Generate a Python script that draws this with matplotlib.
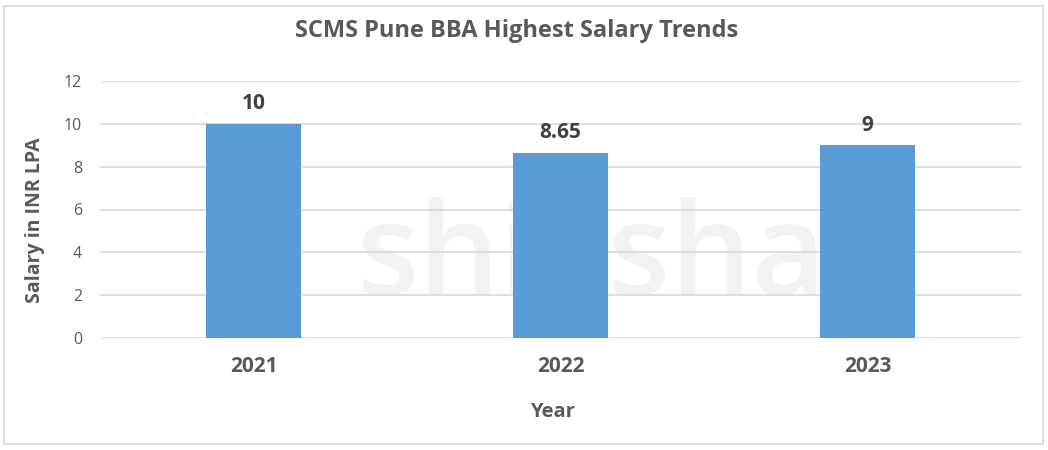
import matplotlib
matplotlib.use("Agg")
import matplotlib.pyplot as plt
from matplotlib.patches import Rectangle

years = ["2021", "2022", "2023"]
salaries = [10, 8.65, 9]
value_labels = ["10", "8.65", "9"]
yticks = [0, 2, 4, 6, 8, 10, 12]

plt.rcParams['font.family'] = ['Open Sans', 'DejaVu Sans']
TXT = '#595959'
BAR = '#5B9BD5'

W, H = 1048, 450
fig = plt.figure(figsize=(W / 100, H / 100), dpi=100)
fig.patch.set_facecolor('white')

# outer chart border
fig.add_artist(Rectangle((4 / W, 1 - 444 / H), (1043 - 4) / W, (444 - 6) / H,
                         transform=fig.transFigure, fill=False,
                         edgecolor='#d9d9d9', linewidth=1.2))

# faint watermark (behind everything in the axes)
wm = fig.text(592 / W, 1 - 262 / H, "shiksha", ha='center', va='center',
              fontsize=92, fontweight='semibold', color='#f2f2f2')
wm.set_zorder(-5)

left, right = 100 / W, 1021 / W
top, bottom = 1 - 81 / H, 1 - 338 / H
ax = fig.add_axes([left, bottom, right - left, top - bottom])
ax.set_facecolor('none')
ax.set_zorder(1)

x = list(range(len(years)))
ax.bar(x, salaries, width=0.31, color=BAR, zorder=3)
ax.set_xlim(-0.5, len(years) - 0.5)
ax.set_ylim(0, 12)
ax.set_yticks(yticks)
ax.set_yticklabels([str(t) for t in yticks], fontsize=11.5, color=TXT)
ax.set_xticks(x)
ax.set_xticklabels(years, fontsize=15, fontweight='bold', color=TXT)
ax.tick_params(axis='both', length=0)
ax.tick_params(axis='y', pad=13)
ax.tick_params(axis='x', pad=13)
ax.yaxis.grid(True, color='#d9d9d9', linewidth=1.2, zorder=0)
ax.set_axisbelow(True)
for s in ax.spines.values():
    s.set_visible(False)

for xi, v, lab in zip(x, salaries, value_labels):
    ax.annotate(lab, (xi, v), xytext=(0, 7), textcoords='offset points',
                ha='center', va='bottom', fontsize=15, fontweight='bold',
                color='#404040')

fig.text(517 / W, 1 - 31 / H, "SCMS Pune BBA Highest Salary Trends",
         ha='center', va='center', fontsize=17, fontweight='bold', color=TXT)
fig.text(552 / W, 1 - 412 / H, "Year", ha='center', va='center',
         fontsize=14.5, fontweight='bold', color=TXT)
fig.text(35 / W, 1 - 220 / H, "Salary in INR LPA", ha='center', va='center',
         rotation=90, fontsize=14, fontweight='bold', color=TXT)

fig.savefig("out.png", dpi=100)
